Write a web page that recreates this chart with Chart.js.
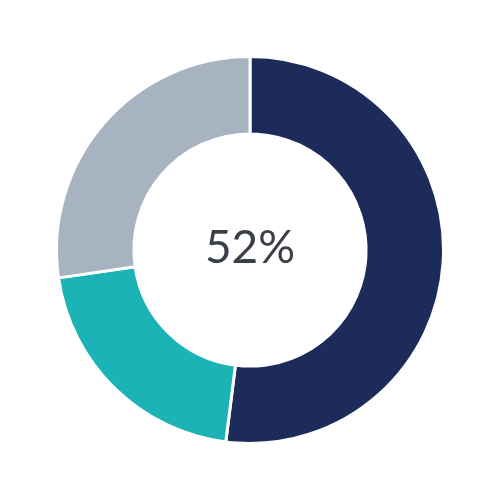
<!DOCTYPE html>
<html>
<head>
<meta charset="utf-8">
<script src="https://cdn.jsdelivr.net/npm/chart.js@4"></script>
<style>
  html, body { margin: 0; padding: 0; background: #fff; }
  .wrap { width: 500px; height: 500px; position: relative; }
</style>
</head>
<body>
<div class="wrap"><canvas id="donut"></canvas></div>
<script>
const categories = ['A', 'B', 'C'];
const values = [52, 20.7, 27.3];
const colors = ['#1c2b5a', '#1bb3b6', '#a8b3c2'];
const centerLabel = '52%';

// text in the hole
const centerText = {
    id: 'centerText',
    afterDraw(chart) {
        const meta = chart.getDatasetMeta(0).data[0];
        const ctx = chart.ctx;
        ctx.save();
        ctx.font = '46px Lato';
        ctx.fillStyle = '#3a3f48';
        ctx.textAlign = 'center';
        ctx.textBaseline = 'middle';
        ctx.fillText(centerLabel, meta.x, meta.y - 2);
        ctx.restore();
    }
};

new Chart(document.getElementById('donut'), {
    type: 'doughnut',
    data: {
        labels: categories,
        datasets: [{
            data: values,
            backgroundColor: colors,
            borderColor: '#ffffff',
            borderWidth: 3
        }]
    },
    options: {
        responsive: true,
        maintainAspectRatio: false,
        animation: false,
        cutout: '60%',
        layout: { padding: 55 },
        plugins: {
            legend: { display: false },
            tooltip: { enabled: false }
        }
    },
    plugins: [centerText]
});
</script>
</body>
</html>
